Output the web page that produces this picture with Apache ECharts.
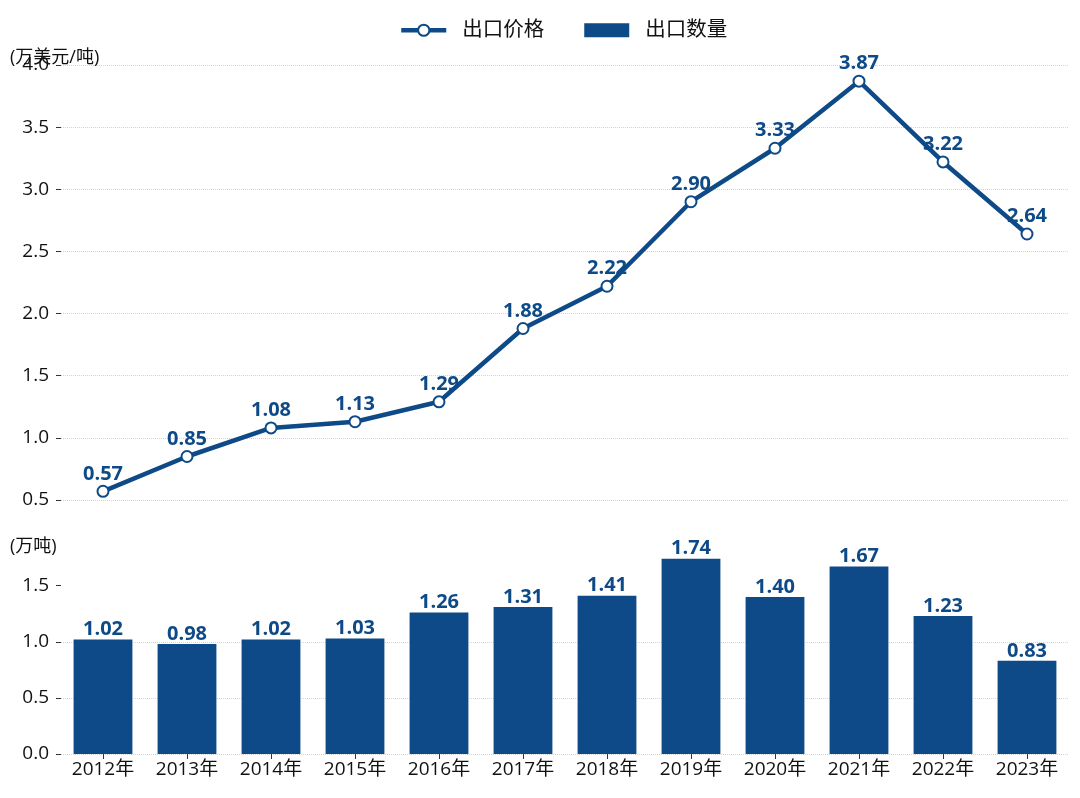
<!DOCTYPE html>
<html><head><meta charset="utf-8">
<script src="https://cdn.jsdelivr.net/npm/echarts@6/dist/echarts.min.js"></script>
<style>html,body{margin:0;padding:0;background:#fff}#c{width:1080px;height:798px}</style>
</head><body><div id="c"></div>
<script>
const categories = ['2012年','2013年','2014年','2015年','2016年','2017年','2018年','2019年','2020年','2021年','2022年','2023年'];
const priceValues = [0.57,0.85,1.08,1.13,1.29,1.88,2.22,2.90,3.33,3.87,3.22,2.64];
const quantityValues = [1.02,0.98,1.02,1.03,1.26,1.31,1.41,1.74,1.40,1.67,1.23,0.83];
const C = '#0d4a87';
const FONT = '"Open Sans", "Noto Sans CJK SC", sans-serif';
const chart = echarts.init(document.getElementById('c'));
const labelStyle = {show:true, position:'top', color:C, fontWeight:'bold', fontSize:20, fontFamily:FONT, distance:1,
  formatter:p=>Number(p.value).toFixed(2)};
chart.setOption({
  textStyle:{fontFamily:FONT},
  legend:{top:15, left:394, itemWidth:45, itemHeight:14, itemGap:40,
    textStyle:{fontSize:20.5, color:'#111', fontFamily:FONT, padding:[0,0,0,11]},
    data:[{name:'出口价格', lineStyle:{width:4.5}}, {name:'出口数量', icon:'rect'}]},
  grid:[{left:61, right:11, top:65, height:435},{left:61, right:11, top:552, height:202}],
  xAxis:[
    {type:'category', gridIndex:0, data:categories, axisLine:{show:false}, axisTick:{show:false}, axisLabel:{show:false}},
    {type:'category', gridIndex:1, data:categories, axisLine:{show:false},
     axisTick:{show:true, alignWithLabel:true, length:5, lineStyle:{color:'#333'}},
     axisLabel:{fontSize:19, color:'#111', margin:6, fontFamily:FONT}}
  ],
  yAxis:[
    {type:'value', gridIndex:0, min:0.5, max:4.0, interval:0.5,
     name:'(万美元/吨)', nameLocation:'end', nameGap:7, nameMoveOverlap:false,
     nameTextStyle:{align:'left', verticalAlign:'middle', padding:[0,0,0,-51], fontSize:18, color:'#111'},
     axisLine:{show:false}, axisTick:{show:true, length:5, lineStyle:{color:'#333'}},
     axisLabel:{fontSize:19, color:'#111', margin:12, formatter:v=>v.toFixed(1)},
     splitLine:{lineStyle:{type:'dotted', color:'#d4d4d4'}}},
    {type:'value', gridIndex:1, min:0, max:1.8, interval:0.5,
     name:'(万吨)', nameLocation:'end', nameGap:5, nameMoveOverlap:false,
     nameTextStyle:{align:'left', verticalAlign:'middle', padding:[0,0,0,-51], fontSize:18, color:'#111'},
     axisLine:{show:false}, axisTick:{show:true, length:5, customValues:[0,0.5,1,1.5], lineStyle:{color:'#333'}},
     axisLabel:{fontSize:19, color:'#111', margin:12, customValues:[0,0.5,1,1.5], formatter:v=>v.toFixed(1)},
     splitLine:{showMaxLine:false, lineStyle:{type:'dotted', color:'#d4d4d4'}}}
  ],
  series:[
    {name:'出口价格', type:'line', xAxisIndex:0, yAxisIndex:0, data:priceValues,
     symbol:'emptyCircle', symbolSize:11, lineStyle:{width:4.5, color:C},
     itemStyle:{color:C, borderWidth:2.5, borderColor:C}, label:labelStyle},
    {name:'出口数量', type:'bar', xAxisIndex:1, yAxisIndex:1, data:quantityValues,
     barWidth:'70%', itemStyle:{color:C}, label:Object.assign({}, labelStyle, {distance:0})}
  ]
});
</script></body></html>
